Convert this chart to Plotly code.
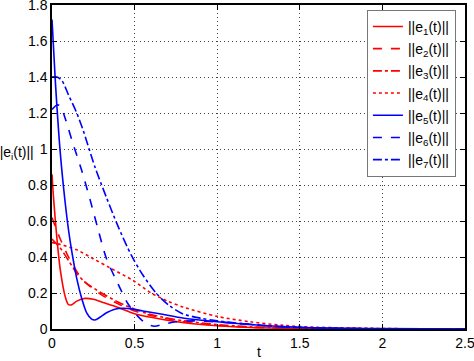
import plotly.graph_objects as go

# ---- data ----
t1 = [0, 0.01, 0.03, 0.05, 0.08, 0.1, 0.12, 0.15, 0.2, 0.25, 0.3, 0.4, 0.5, 0.6, 0.8, 1.0, 1.2, 1.5, 2.0, 2.5]
e1 = [0.86, 0.72, 0.5, 0.33, 0.18, 0.135, 0.135, 0.155, 0.17, 0.165, 0.15, 0.12, 0.085, 0.065, 0.035, 0.018, 0.008, 0.003, 0.0, 0.0]

t2 = [0, 0.02, 0.05, 0.1, 0.15, 0.2, 0.3, 0.4, 0.5, 0.6, 0.8, 1.0, 1.2, 1.5, 2.0, 2.5]
e2 = [0.62, 0.57, 0.5, 0.4, 0.32, 0.26, 0.19, 0.14, 0.1, 0.075, 0.04, 0.02, 0.01, 0.004, 0.001, 0.0]

t3 = [0, 0.02, 0.05, 0.1, 0.15, 0.2, 0.3, 0.4, 0.5, 0.6, 0.8, 1.0, 1.2, 1.5, 2.0, 2.5]
e3 = [0.5, 0.48, 0.45, 0.38, 0.31, 0.26, 0.2, 0.15, 0.11, 0.08, 0.045, 0.025, 0.012, 0.005, 0.001, 0.0]

t4 = [0, 0.05, 0.15, 0.25, 0.35, 0.49, 0.6, 0.7, 0.8, 1.0, 1.2, 1.4, 1.6, 1.9, 2.2, 2.5]
e4 = [0.48, 0.47, 0.44, 0.39, 0.34, 0.27, 0.2, 0.155, 0.12, 0.07, 0.04, 0.02, 0.01, 0.004, 0.001, 0.0]

t5 = [0, 0.02, 0.05, 0.08, 0.1, 0.12, 0.15, 0.18, 0.21, 0.24, 0.26, 0.29, 0.33, 0.38, 0.43, 0.48, 0.55, 0.65, 0.8, 1.0, 1.2, 1.5, 2.0, 2.5]
e5 = [1.72, 1.38, 0.98, 0.7, 0.55, 0.43, 0.28, 0.17, 0.09, 0.055, 0.05, 0.065, 0.09, 0.11, 0.115, 0.112, 0.1, 0.085, 0.06, 0.04, 0.025, 0.01, 0.002, 0.0]

t6 = [0, 0.03, 0.05, 0.08, 0.12, 0.18, 0.23, 0.28, 0.33, 0.4, 0.46, 0.52, 0.57, 0.62, 0.67, 0.75, 0.85, 1.0, 1.2, 1.4, 1.7, 2.0, 2.5]
e6 = [1.22, 1.245, 1.24, 1.17, 1.05, 0.88, 0.72, 0.55, 0.39, 0.25, 0.14, 0.07, 0.03, 0.015, 0.025, 0.04, 0.045, 0.04, 0.025, 0.012, 0.004, 0.001, 0.0]

t7 = [0, 0.03, 0.06, 0.1, 0.15, 0.19, 0.26, 0.33, 0.4, 0.48, 0.55, 0.63, 0.71, 0.79, 0.9, 1.0, 1.15, 1.3, 1.5, 1.8, 2.1, 2.5]
e7 = [1.4, 1.4, 1.38, 1.3, 1.2, 1.1, 0.9, 0.73, 0.57, 0.41, 0.3, 0.2, 0.13, 0.085, 0.06, 0.045, 0.03, 0.018, 0.008, 0.003, 0.001, 0.0]

x_ticks = [0, 0.5, 1, 1.5, 2, 2.5]
x_labels = ["0", "0.5", "1", "1.5", "2", "2.5"]
y_ticks = [0, 0.2, 0.4, 0.6, 0.8, 1, 1.2, 1.4, 1.6, 1.8]
y_labels = ["0", "0.2", "0.4", "0.6", "0.8", "1", "1.2", "1.4", "1.6", "1.8"]

names = ["||e<sub>%d</sub>(t)||" % i for i in range(1, 8)]
series = [(t1, e1), (t2, e2), (t3, e3), (t4, e4), (t5, e5), (t6, e6), (t7, e7)]
colors = ["#ff0000"] * 4 + ["#0000ff"] * 3
dashes = ["solid", "dash", "dashdot", "dot", "solid", "dash", "dashdot"]

fig = go.Figure()
for i, ((tx, ey), nm, c, d) in enumerate(zip(series, names, colors, dashes)):
    fig.add_trace(go.Scatter(x=tx, y=ey, mode="lines", name=nm, legendgroup="g%d" % i,
                             line=dict(color=c, dash=d, width=1.6, shape="spline", smoothing=0.8)))

font = dict(family="Liberation Sans, Arial, sans-serif", size=14, color="black")
axis_common = dict(showline=True, linecolor="black", linewidth=1.5, mirror="ticks",
                   ticks="inside", ticklen=5, tickcolor="black", tickwidth=1,
                   showgrid=True, gridcolor="#444444", griddash="1px,3px", gridwidth=1,
                   zeroline=False, tickfont=font, automargin=False,
                   ticklabeloverflow="allow")

fig.update_xaxes(range=[0, 2.5001], tickvals=x_ticks, ticktext=x_labels, **axis_common)
fig.update_yaxes(range=[0, 1.8001], tickvals=y_ticks, ticktext=y_labels, **axis_common)

fig.add_annotation(text="||e<sub>i</sub>(t)||", xref="paper", yref="paper",
                   x=-0.09, y=0.543, xanchor="center", yanchor="middle",
                   showarrow=False, font=font)
fig.add_annotation(text="t", xref="paper", yref="paper",
                   x=0.5, y=-0.071, xanchor="center", yanchor="middle",
                   showarrow=False, font=font)

fig.update_layout(width=474, height=361, margin=dict(l=52, r=9, t=5, b=32, autoexpand=False),
                  paper_bgcolor="white", plot_bgcolor="white", font=font,
                  showlegend=True,
                  legend=dict(x=0.978, y=0.985, xanchor="right", yanchor="top",
                              bgcolor="white", bordercolor="#777777", borderwidth=1,
                              font=dict(family="Liberation Sans, Arial, sans-serif", size=14),
                              tracegroupgap=1))

fig.write_html("out.html", config={"displayModeBar": False},
               post_script="document.body.style.margin='0px'; document.body.style.overflow='hidden';")
